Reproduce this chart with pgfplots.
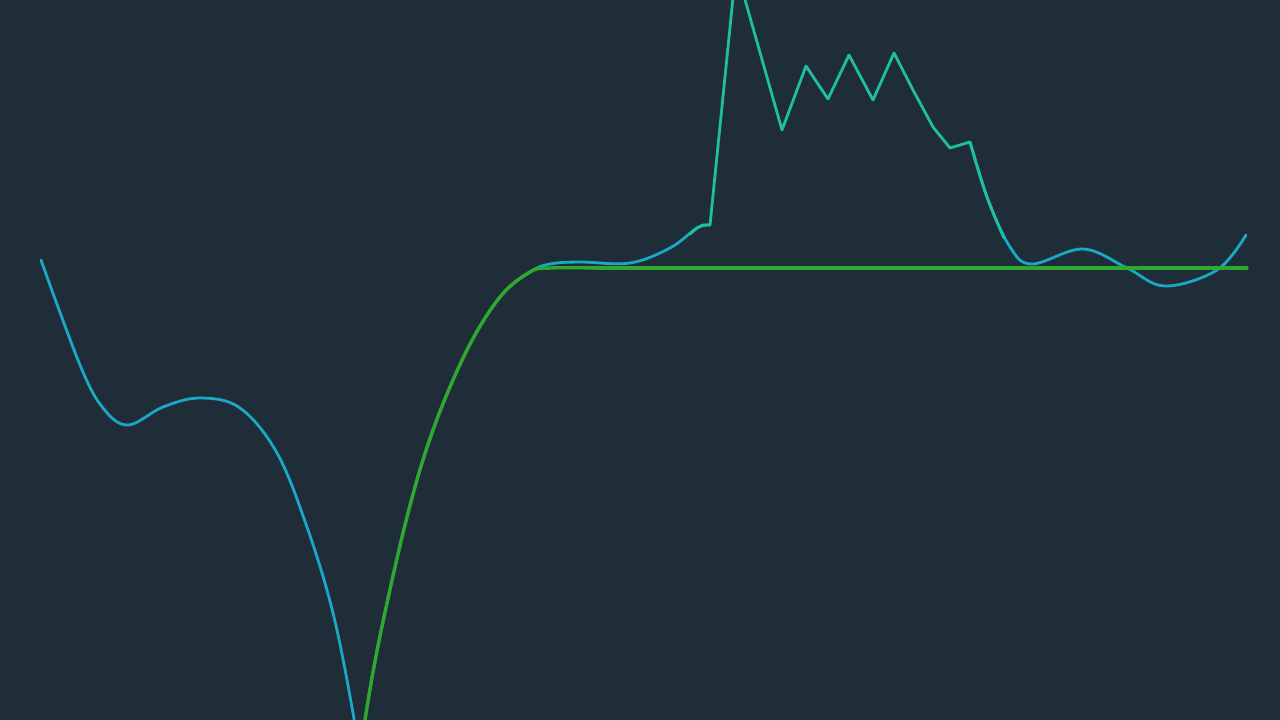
\documentclass[border=0pt]{standalone}
\usepackage{pgfplots}
\pgfplotsset{compat=1.18}
\definecolor{bg}{HTML}{1F2D38}
\definecolor{cyanline}{HTML}{1BA8C6}
\definecolor{tealline}{HTML}{1EBF9E}
\definecolor{greenline}{HTML}{2EA82E}
\begin{document}
\begin{tikzpicture}
\fill[bg] (0,0) rectangle (1280pt,720pt);
\begin{axis}[
    at={(0,0)}, anchor=south west,
    scale only axis, width=1280pt, height=720pt,
    xmin=0, xmax=1280, ymin=0, ymax=720,
    y dir=reverse,
    hide axis, clip=true,
    line join=round, line cap=round,
  ]
  % smooth left part, dipping off screen and coming back up under the green curve
  \addplot[cyanline, line width=2.8pt, smooth, tension=0.6] coordinates {
    (41,260) (80,365) (103,408) (128,425) (163,407) (200,398) (240,408)
    (277,453) (307,527) (333,613) (353,713) (360,765)
    (365,720) (380,636) (407,517) (433,430) (467,350) (500,297) (530,272)
    (550,264) (580,262) (630,263) (670,248) (697,228) (710,225) };
  % right tail
  \addplot[cyanline, line width=2.8pt, smooth, tension=0.6] coordinates {
    (970,142) (987,197) (1010,247) (1032,264) (1083,249) (1127,268)
    (1165,286) (1217,270) (1246,235) };
  \addplot[tealline, line width=2.8pt, smooth, tension=0.6] coordinates {
    (970,142) (987,197) (1004,238) };
  % jagged peaks
  \addplot[tealline, line width=2.8pt] coordinates {
    (690,234) (697,228) (703,225) (710,225) (736,-32) (782,130) (806,66)
    (828,99) (849,55) (873,100) (894,53) (913,90) (933,127) (950,148)
    (970,142) };
  % green line
  \addplot[greenline, line width=3.4pt, smooth, tension=0.6] coordinates {
    (361,760) (365,720) (380,636) (407,517) (433,430) (467,350) (500,297)
    (530,272) (550,268) (600,268) };
  \addplot[greenline, line width=3.4pt] coordinates {(595,268) (1247,268)};
\end{axis}
\pgfresetboundingbox
\useasboundingbox (0,0) rectangle (1280pt,720pt);
\end{tikzpicture}
\end{document}
